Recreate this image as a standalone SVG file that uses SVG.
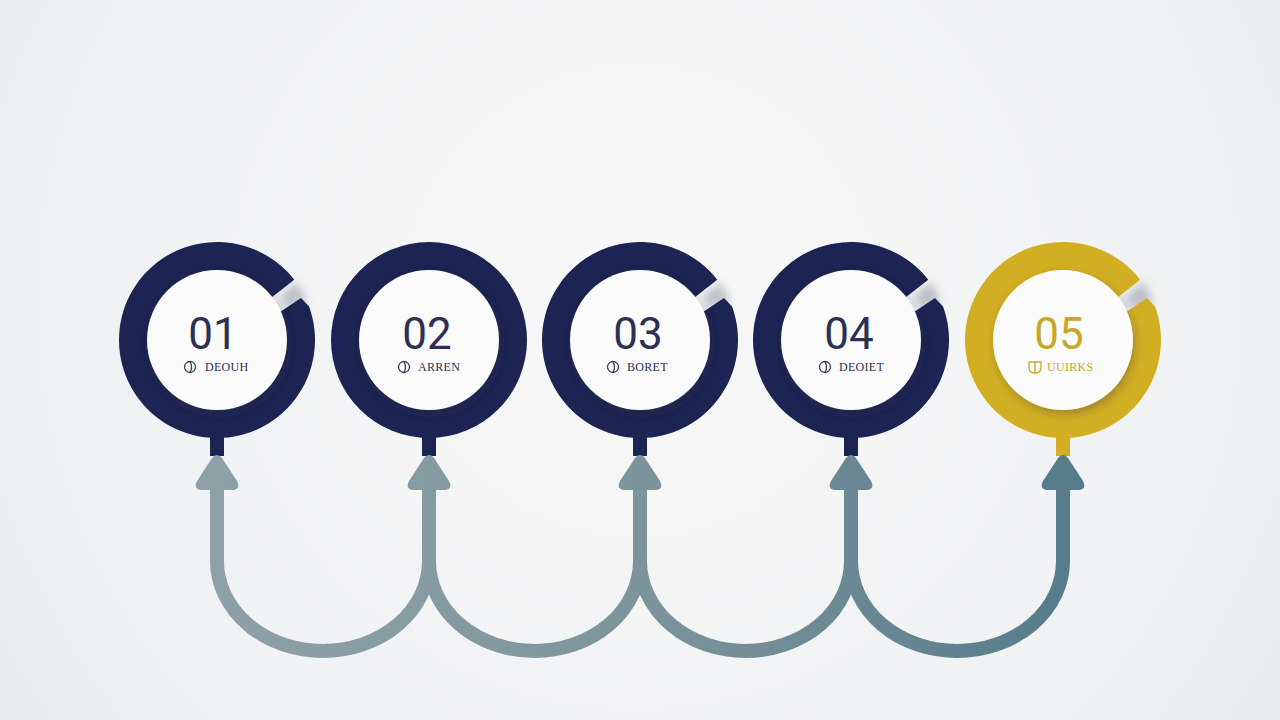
<svg xmlns="http://www.w3.org/2000/svg" width="1280" height="720" viewBox="0 0 1280 720">
  <defs>
    <radialGradient id="bg" cx="640" cy="300" r="860" gradientUnits="userSpaceOnUse">
      <stop offset="0" stop-color="#f8f8f8"/>
      <stop offset="0.6" stop-color="#f1f2f3"/>
      <stop offset="1" stop-color="#e4e7e9"/>
    </radialGradient>
    <linearGradient id="conn" x1="195" y1="0" x2="1085" y2="0" gradientUnits="userSpaceOnUse">
      <stop offset="0" stop-color="#8fa1a8"/>
      <stop offset="0.5" stop-color="#7d949c"/>
      <stop offset="1" stop-color="#557b89"/>
    </linearGradient>
    <filter id="sh" x="-30%" y="-30%" width="160%" height="160%">
      <feDropShadow dx="2" dy="4" stdDeviation="4" flood-color="#2a3040" flood-opacity="0.3"/>
    </filter>
    <filter id="blur" x="-50%" y="-50%" width="200%" height="200%">
      <feGaussianBlur stdDeviation="4"/>
    </filter>
    <path id="ringGap" d="M 92.09 -33.52 A 98 98 0 1 1 77.22 -60.34 L 52.0 -40.6 A 66 66 0 1 0 60.0 -26.0 L 84 -42 Z"/>
    <path id="gapShadow" d="M 62 -44 L 80 -58 A 98 98 0 0 1 90 -38 L 70 -30 Z"/>
  </defs>
  <style>
    .navy { fill: #1b2452; }
    .gold { fill: #d2ae22; }
    .disc { fill: #fbfbfb; }
    .num { font-family: Roboto, "Liberation Sans", sans-serif; font-size: 44px; font-weight: 400; text-anchor: middle; }
    .lab { font-family: "Liberation Serif", serif; font-size: 12px; letter-spacing: 0.3px; }
    .tn { fill: #2b3155; }
    .tg { fill: #c9a626; }
    .icn { fill: none; stroke-width: 1.3; }
    .in { stroke: #3a3f57; }
    .ig { stroke: #c9a626; }
    .gs { fill: #9aa0a8; opacity: 0.6; filter: url(#blur); }
  </style>

  <rect width="1280" height="720" fill="url(#bg)"/>

  <g id="node-1" transform="translate(217,340)">
    <rect class="navy" x="-7" y="90" width="14" height="26"/>
    <use href="#gapShadow" class="gs"/>
    <use href="#ringGap" class="navy"/>
    <circle class="disc" r="70" filter="url(#sh)"/>
    <text class="num tn" x="-4" y="9">01</text>
    <circle class="icn in" cx="-27" cy="27" r="5.5"/>
    <path class="icn in" d="M -27 21.5 Q -24 27 -27 32.5"/>
    <text class="lab tn" x="-12" y="31">DEOUH</text>
  </g>

  <g id="node-2" transform="translate(429,340)">
    <rect class="navy" x="-7" y="90" width="14" height="26"/>
    <circle class="navy" r="98"/>
    <circle class="disc" r="70" filter="url(#sh)"/>
    <text class="num tn" x="-2" y="9">02</text>
    <circle class="icn in" cx="-25" cy="27" r="5.5"/>
    <path class="icn in" d="M -25 21.5 Q -22 27 -25 32.5"/>
    <text class="lab tn" x="-11" y="31">ARREN</text>
  </g>

  <g id="node-3" transform="translate(640,340)">
    <rect class="navy" x="-7" y="90" width="14" height="26"/>
    <use href="#gapShadow" class="gs"/>
    <use href="#ringGap" class="navy"/>
    <circle class="disc" r="70" filter="url(#sh)"/>
    <text class="num tn" x="-2" y="9">03</text>
    <circle class="icn in" cx="-27" cy="27" r="5.5"/>
    <path class="icn in" d="M -27 21.5 Q -24 27 -27 32.5"/>
    <text class="lab tn" x="-13" y="31">BORET</text>
  </g>

  <g id="node-4" transform="translate(851,340)">
    <rect class="navy" x="-7" y="90" width="14" height="26"/>
    <use href="#gapShadow" class="gs"/>
    <use href="#ringGap" class="navy"/>
    <circle class="disc" r="70" filter="url(#sh)"/>
    <text class="num tn" x="-2" y="9">04</text>
    <circle class="icn in" cx="-26" cy="27" r="5.5"/>
    <path class="icn in" d="M -26 21.5 Q -23 27 -26 32.5"/>
    <text class="lab tn" x="-12" y="31">DEOIET</text>
  </g>

  <g id="node-5" transform="translate(1063,340)">
    <rect class="gold" x="-7" y="90" width="14" height="26"/>
    <use href="#gapShadow" class="gs"/>
    <use href="#ringGap" class="gold"/>
    <circle class="disc" r="70" filter="url(#sh)"/>
    <text class="num tg" x="-4" y="9">05</text>
    <path class="icn ig" d="M -34 22 L -22 22 L -22 28 Q -22 33 -28 33 Q -34 33 -34 28 Z M -28 22 L -28 33"/>
    <text class="lab tg" x="-16" y="31">UUIRKS</text>
  </g>

  <g id="connectors" fill="none" stroke="url(#conn)" stroke-width="14">
    <path d="M 217 485 L 217 561 A 106 90 0 0 0 429 561 L 429 485"/>
    <path d="M 429 561 A 105.5 90 0 0 0 640 561 L 640 485"/>
    <path d="M 640 561 A 105.5 90 0 0 0 851 561 L 851 485"/>
    <path d="M 851 561 A 106 90 0 0 0 1063 561 L 1063 485"/>
    <g stroke="none" fill="url(#conn)">
      <path d="M 217 455 Q 220 455 222 458 L 237 481 Q 241 488 234 490 L 200 490 Q 193 488 197 481 L 212 458 Q 214 455 217 455 Z"/>
      <path d="M 429 455 Q 432 455 434 458 L 449 481 Q 453 488 446 490 L 412 490 Q 405 488 409 481 L 424 458 Q 426 455 429 455 Z"/>
      <path d="M 640 455 Q 643 455 645 458 L 660 481 Q 664 488 657 490 L 623 490 Q 616 488 620 481 L 635 458 Q 637 455 640 455 Z"/>
      <path d="M 851 455 Q 854 455 856 458 L 871 481 Q 875 488 868 490 L 834 490 Q 827 488 831 481 L 846 458 Q 848 455 851 455 Z"/>
      <path d="M 1063 455 Q 1066 455 1068 458 L 1083 481 Q 1087 488 1080 490 L 1046 490 Q 1039 488 1043 481 L 1058 458 Q 1060 455 1063 455 Z"/>
    </g>
  </g>
</svg>
